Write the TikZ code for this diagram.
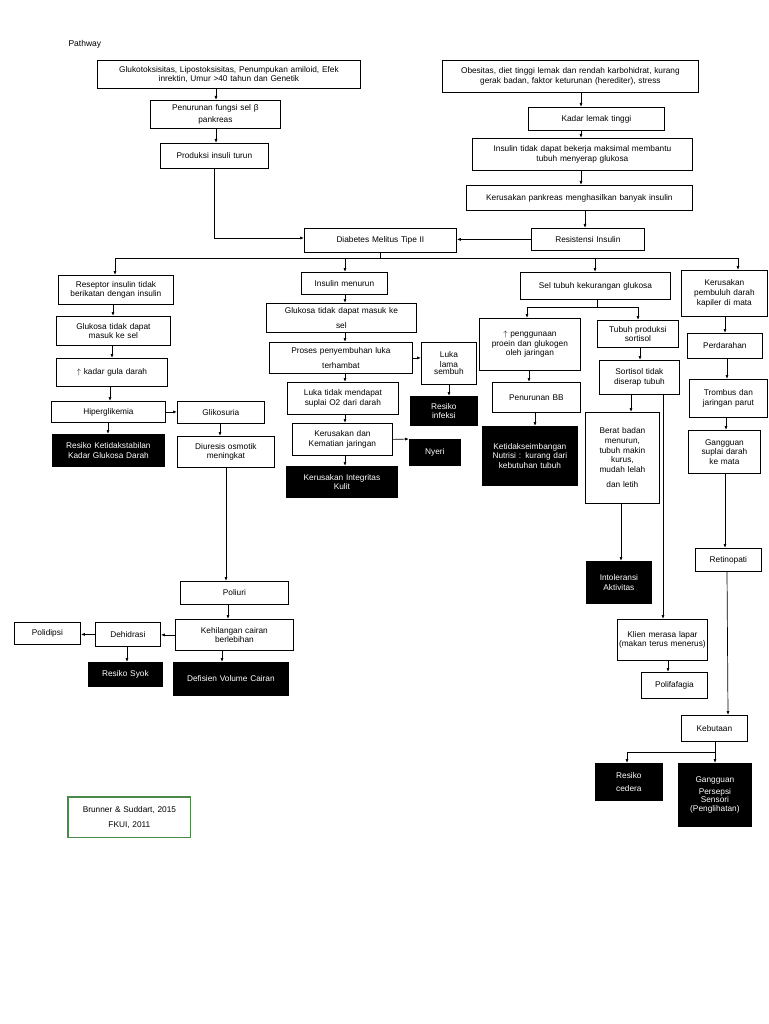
\documentclass[tikz,border=0pt]{standalone}
\usepackage{fontspec}
\setmainfont{Liberation Sans}
\usetikzlibrary{arrows.meta}
\hyphenpenalty=10000 \exhyphenpenalty=10000
\newcommand\Bx[7]{%
\pgfmathsetmacro\bw{#5-#3}\pgfmathsetmacro\bh{#6-#4}\pgfmathsetmacro\tw{#5-#3-2}%
\node[#1,anchor=north west,minimum width=\bw pt,minimum height=\bh pt,text width=\tw pt] (#2) at (#3,#4) {#7};}
\begin{document}
\begin{tikzpicture}[x=1pt,y=-1pt,
 bx/.style={draw,line width=0.8pt,inner sep=1pt,align=center,font=\fontsize{8.3}{9.6}\selectfont},
 bk/.style={bx,fill=black,text=white},
 ar/.style={-{Latex[length=4pt,width=3pt]},line width=0.7pt},
 ln/.style={line width=0.7pt}]
\fill[white] (0,0) rectangle (768,1024);
\useasboundingbox (0,0) rectangle (768,1024);
\node[anchor=west,font=\fontsize{8.5}{9}\selectfont] (title) at (65,44) {Pathway};
% top left
\Bx{bx}{A1}{97}{60}{360}{88}{Glukotoksisitas, Lipostoksisitas, Penumpukan amiloid, Efek\\ inrektin, Umur >40 tahun dan Genetik}
\Bx{bx}{A2}{150}{100}{280}{128}{Penurunan fungsi sel β\\[2pt] pankreas}
\Bx{bx}{A3}{160}{143}{268}{168}{Produksi insuli turun}
% top right
\Bx{bx}{B1}{442}{60}{698}{92}{Obesitas, diet tinggi lemak dan rendah karbohidrat, kurang\\ gerak badan, faktor keturunan (herediter), stress}
\Bx{bx}{B2}{528}{107}{664}{130}{Kadar lemak tinggi}
\Bx{bx}{B3}{472}{138}{692}{170}{Insulin tidak dapat bekerja maksimal membantu\\ tubuh menyerap glukosa}
\Bx{bx}{B4}{466}{185}{692}{210}{Kerusakan pankreas menghasilkan banyak insulin}
\Bx{bx}{DM}{304}{228}{456}{252}{Diabetes Melitus Tipe II}
\Bx{bx}{RI}{531}{228}{644}{250}{Resistensi Insulin}
\draw[ar] (A1.south -| 216,0) -- (A2.north -| 216,0);
\draw[ar] (A2.south -| 216,0) -- (A3.north -| 216,0);
\draw[ar] (A3.south -| 214,0) -- (214,238) -- (DM.west |- 0,238);
\draw[ar] (B1.south -| 581,0) -- (B2.north -| 581,0);
\draw[ar] (B2.south -| 581,0) -- (B3.north -| 581,0);
\draw[ar] (B3.south -| 581,0) -- (B4.north -| 581,0);
\draw[ar] (B4.south -| 585,0) -- (RI.north -| 585,0);
\draw[ar] (RI.west) -- (DM.east |- RI.west);
% left column
\Bx{bx}{L1}{58}{275}{173}{304}{Reseptor insulin tidak\\ berikatan dengan insulin}
\Bx{bx}{L2}{56}{316}{170}{345}{Glukosa tidak dapat\\ masuk ke sel}
\Bx{bx}{L3}{56}{358}{167}{386}{$\uparrow$ kadar gula darah}
\Bx{bx}{L4}{51}{401}{165}{422}{Hiperglikemia}
\Bx{bk}{L5}{52}{434}{164}{466}{Resiko Ketidakstabilan Kadar Glukosa Darah}
\Bx{bx}{G1}{177}{401}{264}{423}{Glikosuria}
\Bx{bx}{G2}{177}{436}{274}{467}{Diuresis osmotik meningkat}
\Bx{bx}{PU}{180}{581}{288}{604}{Poliuri}
\Bx{bx}{KC}{175}{619}{293}{650}{Kehilangan cairan\\ berlebihan}
\Bx{bx}{DH}{95}{622}{160}{646}{Dehidrasi}
\Bx{bx}{PD}{14}{622}{80}{644}{Polidipsi}
\Bx{bk}{RS}{88}{662}{162}{686}{Resiko Syok}
\Bx{bk}{DV}{173}{662}{288}{695}{Defisien Volume Cairan}
% middle
\Bx{bx}{M1}{301}{272}{387}{294}{Insulin menurun}
\Bx{bx}{M2}{266}{303}{416}{332}{Glukosa tidak dapat masuk ke\\[5pt] sel}
\Bx{bx}{M3}{269}{342}{412}{373}{Proses penyembuhan luka\\[5pt] terhambat}
\Bx{bx}{M4}{287}{382}{398}{414}{Luka tidak mendapat\\ suplai O2 dari darah}
\Bx{bx}{M5}{292}{423}{392}{455}{Kerusakan dan\\ Kematian jaringan}
\Bx{bk}{M6}{286}{466}{397}{497}{Kerusakan Integritas\\ Kulit}
\Bx{bx}{LS}{421}{342}{476}{384}{Luka\\ lama\\[-2pt] sembuh}
\Bx{bk}{RF}{410}{396}{477}{425}{Resiko\\ infeksi}
\Bx{bk}{NY}{409}{439}{460}{465}{Nyeri}
% right middle
\Bx{bx}{S1}{520}{272}{670}{299}{Sel tubuh kekurangan glukosa}
\Bx{bx}{P1}{479}{318}{580}{370}{$\uparrow$ penggunaan\\ proein dan glukogen\\ oleh jaringan}
\Bx{bx}{P2}{492}{382}{580}{412}{Penurunan BB}
\Bx{bk}{P3}{482}{426}{577}{485}{Ketidakseimbangan Nutrisi : kurang dari kebutuhan tubuh}
\Bx{bx}{T1}{597}{320}{678}{347}{Tubuh produksi\\ sortisol}
\Bx{bx}{T2}{599}{360}{679}{394}{Sortisol tidak\\ diserap tubuh}
\Bx{bx}{T3}{585}{412}{659}{503}{Berat badan\\ menurun,\\ tubuh makin\\ kurus,\\ mudah lelah\\[6pt] dan letih}
\Bx{bk}{IA}{586}{561}{651}{603}{Intoleransi Aktivitas}
\Bx{bx}{KL}{617}{619}{707}{660}{Klien merasa lapar (makan terus menerus)}
\Bx{bx}{PF}{641}{672}{707}{698}{Polifafagia}
% right
\Bx{bx}{K1}{681}{270}{767}{316}{Kerusakan\\ pembuluh darah\\ kapiler di mata}
\Bx{bx}{K2}{687}{333}{762}{358}{Perdarahan}
\Bx{bx}{K3}{689}{379}{767}{417}{Trombus dan jaringan parut}
\Bx{bx}{K4}{688}{430}{760}{473}{Gangguan\\ suplai darah\\ ke mata}
\Bx{bx}{RT}{695}{548}{761}{571}{Retinopati}
\Bx{bx}{KB}{681}{715}{747}{741}{Kebutaan}
\Bx{bk}{RC}{595}{763}{662}{800}{Resiko\\[4pt] cedera}
\Bx{bk}{GP}{678}{763}{751}{826}{Gangguan\\[3pt] Persepsi\\[-2pt] Sensori\\ (Penglihatan)}
\Bx{bx}{BR}{68}{797}{190}{837}{Brunner \& Suddart, 2015\\[6pt] FKUI, 2011}
\draw[draw=white,line width=1.6pt] (BR.north west) rectangle (BR.south east);
\draw[draw=black!40!green!40!gray,line width=1.2pt] (BR.north west) rectangle (BR.south east);
% DM branches
\draw[ln] (DM.south) -- (DM.south |- 0,258);
\draw[ln] (115,258) -- (738,258);
\draw[ar] (115,258) -- (L1.north -| 115,0);
\draw[ar] (345,258) -- (M1.north -| 345,0);
\draw[ar] (595,258) -- (S1.north -| 595,0);
\draw[ar] (738,258) -- (K1.north -| 738,0);
% left arrows
\draw[ar] (L1.south -| 113,0) -- (L2.north -| 113,0);
\draw[ar] (L2.south -| 112,0) -- (L3.north -| 112,0);
\draw[ar] (L3.south -| 110,0) -- (L4.north -| 110,0);
\draw[ar] (L4.south -| 108,0) -- (L5.north -| 108,0);
\draw[ar] (L4.east) -- (G1.west |- L4.east);
\draw[ar] (G1.south -| 220,0) -- (G2.north -| 220,0);
\draw[ar] (G2.south -| 226,0) -- (PU.north -| 226,0);
\draw[ar] (PU.south -| 228,0) -- (KC.north -| 228,0);
\draw[ar] (KC.west) -- (DH.east |- KC.west);
\draw[ar] (DH.west) -- (PD.east |- DH.west);
\draw[ar] (DH.south -| 127,0) -- (RS.north -| 127,0);
\draw[ar] (KC.south -| 222,0) -- (DV.north -| 222,0);
% middle arrows
\draw[ar] (M1.south -| 345,0) -- (M2.north -| 345,0);
\draw[ar] (M2.south -| 345,0) -- (M3.north -| 345,0);
\draw[ar] (M3.south -| 345,0) -- (M4.north -| 345,0);
\draw[ar] (M4.south -| 345,0) -- (M5.north -| 345,0);
\draw[ar] (M5.south -| 345,0) -- (M6.north -| 345,0);
\draw[ar] (M3.east) -- (LS.west |- M3.east);
\draw[ar] (LS.south -| 449,0) -- (RF.north -| 449,0);
\draw[ar] (M5.east) -- (NY.north west);
% right-middle arrows
\draw[ln] (S1.south -| 597,0) -- (597,307);
\draw[ln] (527,307) -- (638,307);
\draw[ar] (527,307) -- (P1.north -| 527,0);
\draw[ar] (638,307) -- (T1.north -| 638,0);
\draw[ar] (P1.south -| 529,0) -- (P2.north -| 529,0);
\draw[ar] (P2.south -| 535,0) -- (P3.north -| 535,0);
\draw[ar] (T1.south -| 640,0) -- (T2.north -| 640,0);
\draw[ar] (T2.south -| 631,0) -- (T3.north -| 631,0);
\draw[ar] (T3.south -| 621,0) -- (IA.north -| 621,0);
\draw[ar] (T2.south -| 663,0) -- (KL.north -| 663,0);
\draw[ar] (KL.south -| 668,0) -- (PF.north -| 668,0);
% right arrows
\draw[ar] (K1.south -| 725,0) -- (K2.north -| 725,0);
\draw[ar] (K2.south -| 727,0) -- (K3.north -| 727,0);
\draw[ar] (K3.south -| 726,0) -- (K4.north -| 726,0);
\draw[ar] (K4.south -| 725,0) -- (RT.north -| 725,0);
\draw[ar] (RT.south -| 727,0) -- (KB.north -| 728,0);
\draw[ln] (KB.south -| 715,0) -- (715,752) -- (627,752);
\draw[ar] (627,752) -- (RC.north -| 627,0);
\draw[ar] (715,752) -- (GP.north -| 715,0);
\end{tikzpicture}
\end{document}
